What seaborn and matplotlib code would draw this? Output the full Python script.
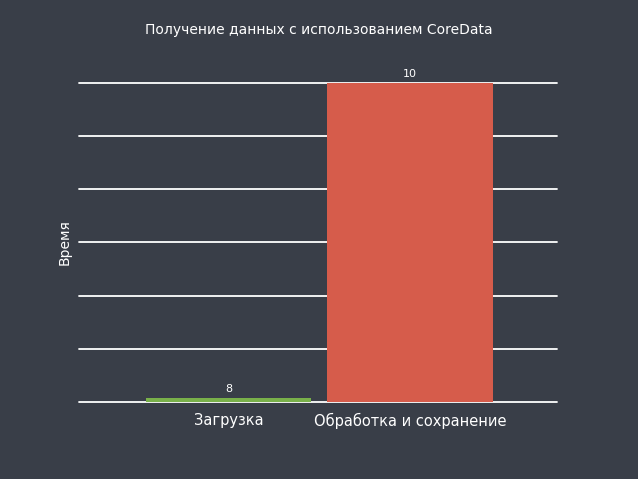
import matplotlib
matplotlib.use("Agg")
import matplotlib.pyplot as plt
import seaborn as sns
import numpy as np
import pandas as pd

categories = ["Загрузка", "Обработка и сохранение"]
values = [0.11, 10]
value_labels = ["8", "10"]
colors = ["#79b04a", "#d65c4b"]

bg = "#393e48"
sns.set_theme(style="dark")
plt.rcParams["font.family"] = ["DejaVu Sans"]

df = pd.DataFrame({"cat": categories, "val": values})

fig = plt.figure(figsize=(6.38, 4.79), dpi=100, facecolor=bg)
ax = fig.add_axes([0.124, 0.161, 0.749, 0.666])
ax.set_facecolor(bg)

sns.barplot(data=df, x="cat", y="val", hue="cat", palette=colors,
            width=0.91, saturation=1, linewidth=0, legend=False, ax=ax, zorder=3)

for cont, lab in zip(ax.containers, value_labels):
    ax.bar_label(cont, labels=[lab], padding=3, color="white", fontsize=8)

ax.set_ylim(0, 10)
ax.set_xlim(-0.824, 1.81)
ax.set_yticks(np.linspace(0, 10, 7))
ax.set_yticklabels([])
ax.tick_params(axis="y", length=0)
ax.tick_params(axis="x", length=0, colors="white", labelsize=10.5, pad=8)
ax.yaxis.grid(True, color="white", linewidth=1.3, zorder=1)
ax.xaxis.grid(False)
ax.set_axisbelow(True)
for gl in ax.get_ygridlines():
    gl.set_clip_on(False)
for s in ax.spines.values():
    s.set_visible(False)

ax.set_xlabel("")
ax.set_ylabel("Время", color="white", fontsize=10, labelpad=2)
fig.text(0.5, 0.937, "Получение данных с использованием CoreData",
         ha="center", va="center", color="white", fontsize=10)

fig.savefig("out.png", dpi=100, facecolor=bg)
